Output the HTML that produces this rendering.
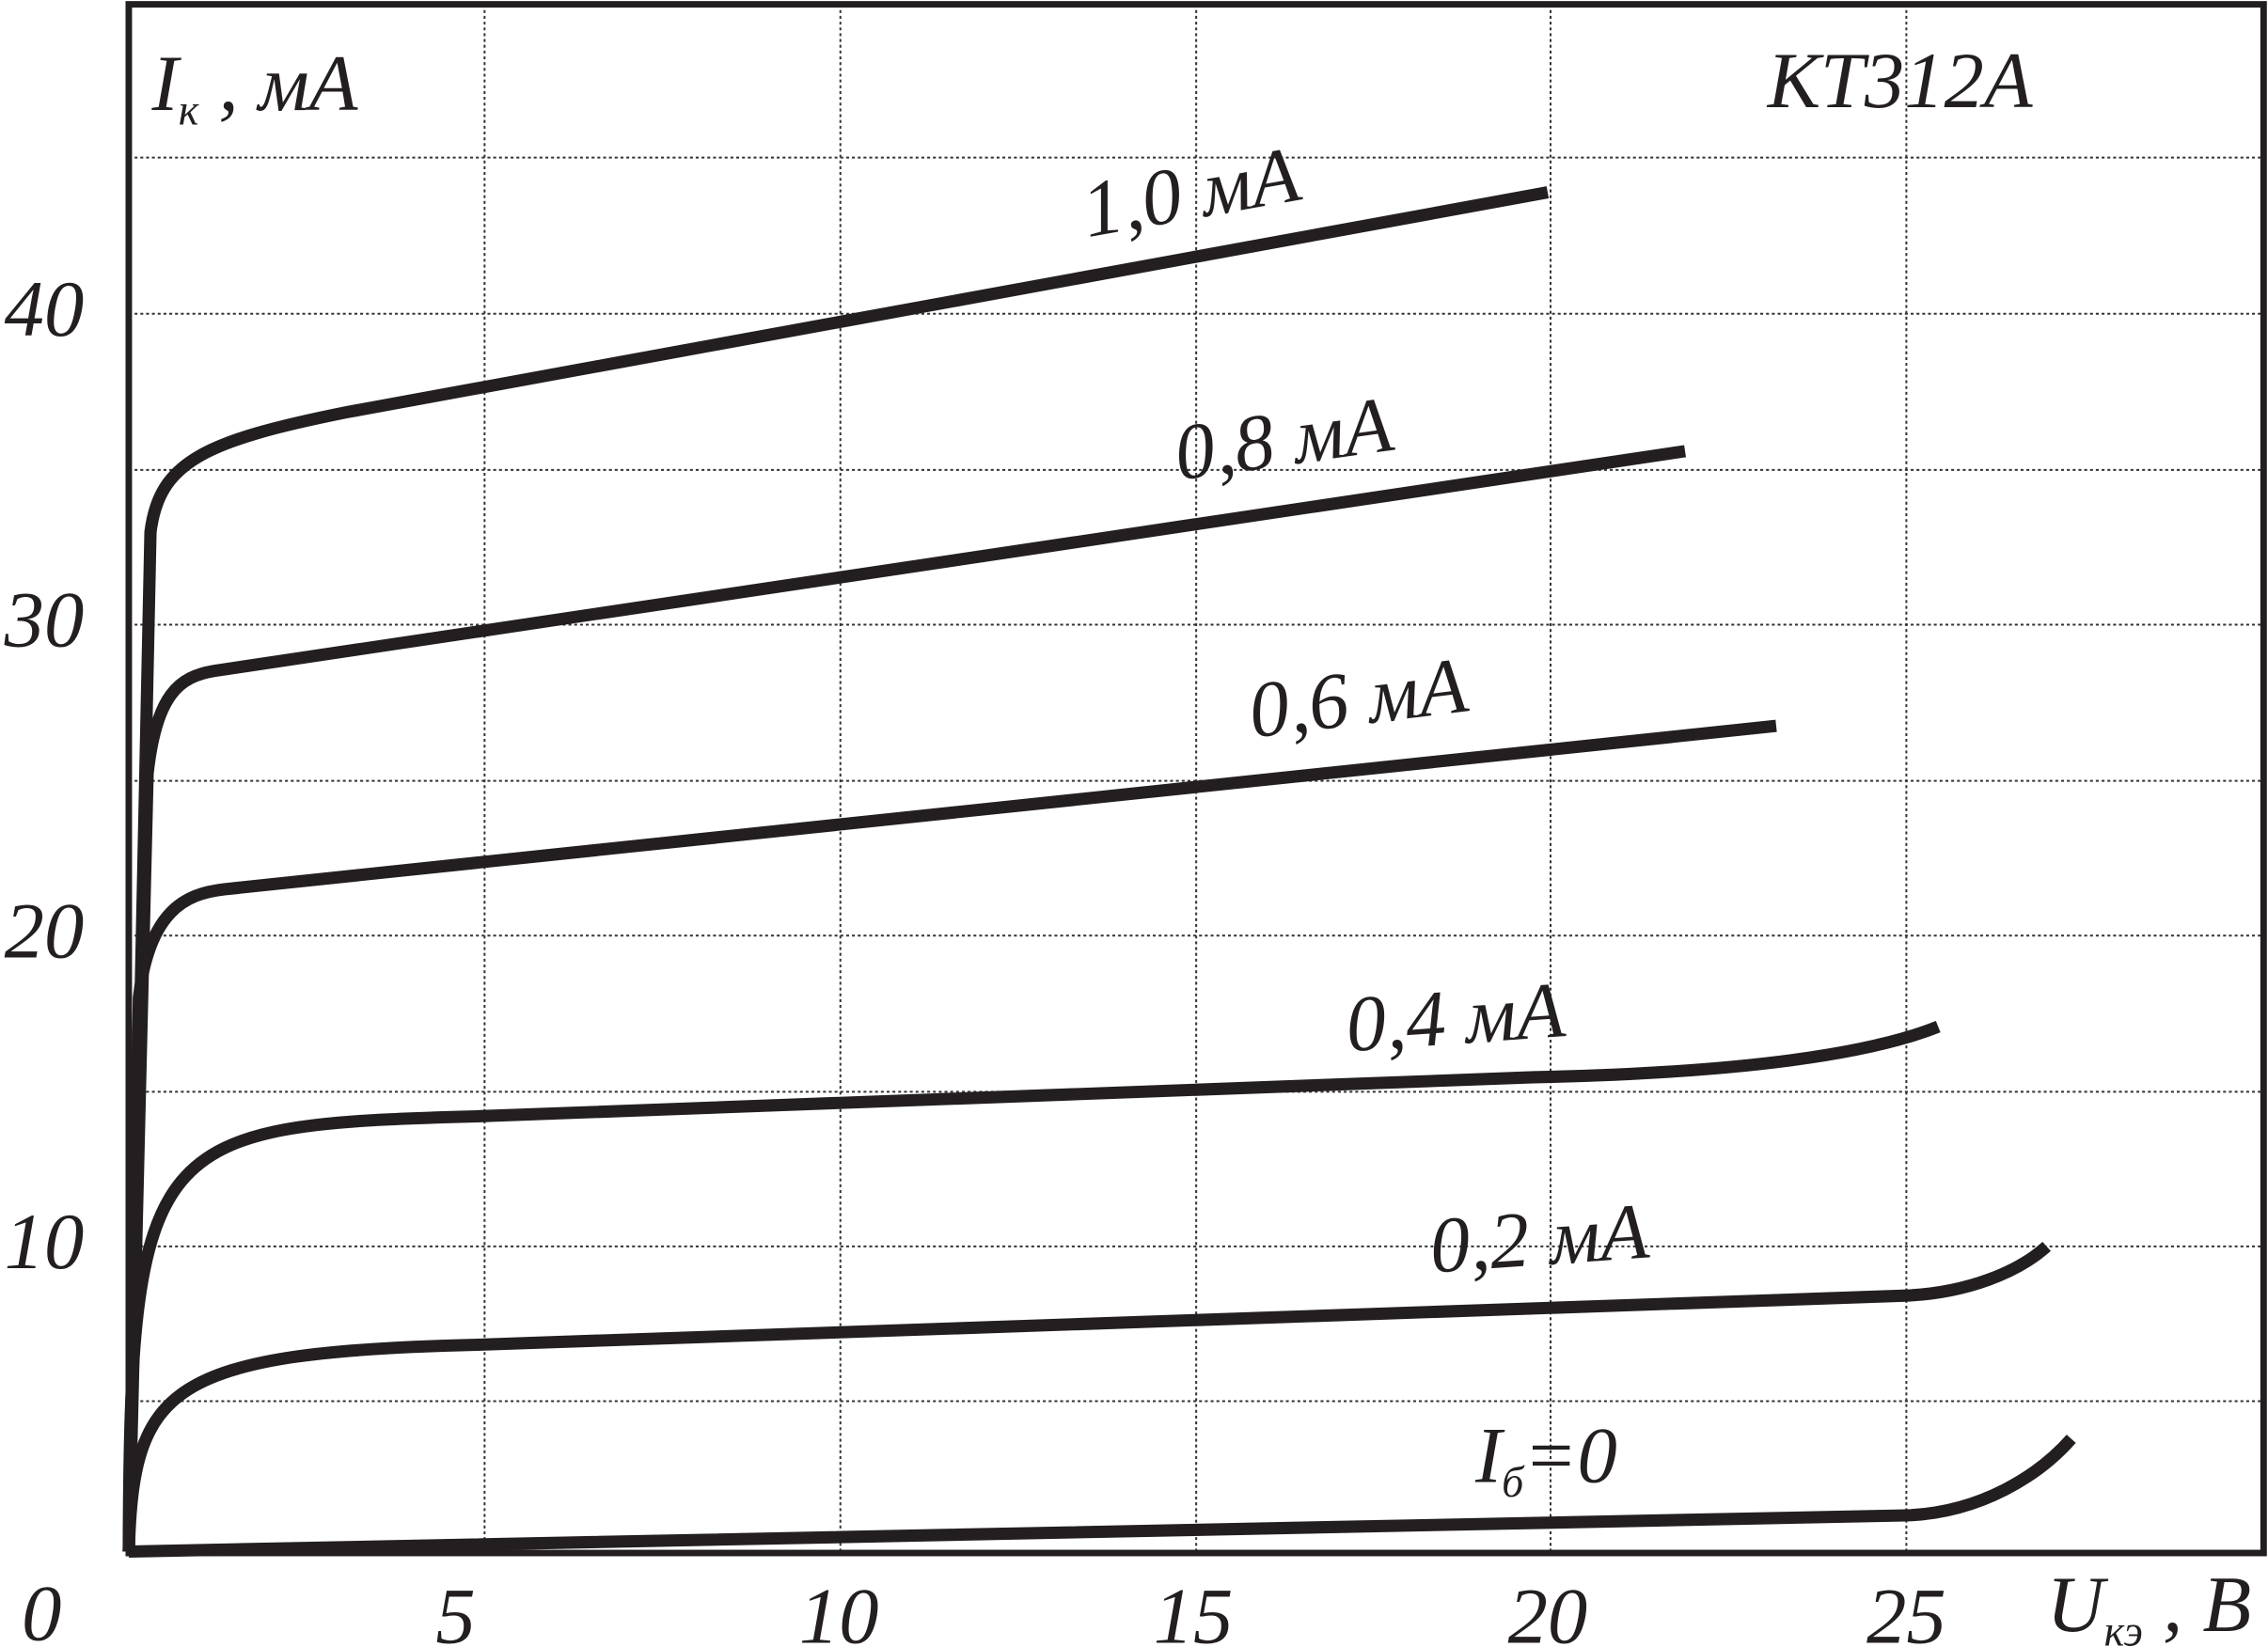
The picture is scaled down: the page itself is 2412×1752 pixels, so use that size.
<!DOCTYPE html>
<html><head><meta charset="utf-8"><style>html,body{margin:0;padding:0;background:#fff}svg{display:block}</style></head>
<body>
<svg width="2412" height="1752" viewBox="0 0 1568 1139" xmlns="http://www.w3.org/2000/svg" font-family="Liberation Serif, serif" font-style="italic" fill="#231f20">
<g stroke="#333" stroke-width="1.3" stroke-dasharray="2,2" fill="none">
<line x1="335" y1="3" x2="335" y2="1074"/><line x1="581" y1="3" x2="581" y2="1074"/>
<line x1="827" y1="3" x2="827" y2="1074"/><line x1="1072" y1="3" x2="1072" y2="1074"/>
<line x1="1318" y1="3" x2="1318" y2="1074"/>
<line x1="89" y1="109" x2="1565" y2="109"/><line x1="89" y1="217" x2="1565" y2="217"/>
<line x1="89" y1="325" x2="1565" y2="325"/><line x1="89" y1="432" x2="1565" y2="432"/>
<line x1="89" y1="540" x2="1565" y2="540"/><line x1="89" y1="647" x2="1565" y2="647"/>
<line x1="89" y1="755" x2="1565" y2="755"/><line x1="89" y1="862" x2="1565" y2="862"/>
<line x1="89" y1="969" x2="1565" y2="969"/>
</g>
<rect x="89" y="3" width="1476" height="1071" fill="none" stroke="#231f20" stroke-width="4.5"/>
<g stroke="#231f20" stroke-width="8.5" fill="none">
<path d="M89,1073 L1318,1048 C1370,1046 1410,1020 1432,995"/>
<path d="M89,1073 C92,960 115,935 330,930 L1318,896 C1360,894 1395,880 1415,862"/>
<path d="M89,1073 C90,785 105,778 330,772 L1060,745 C1200,742 1290,730 1340,710"/>
<path d="M89,1073 L96,690 C103,630 128,618 155,615 L1228,502"/>
<path d="M89,1073 L102,535 C108,480 124,468 148,464 L1165,312"/>
<path d="M89,1073 L104,368 C110,320 140,305 240,285 L1070,133"/>
</g>
<g font-size="55">
<text x="3" y="232">40</text><text x="3" y="447">30</text><text x="3" y="662">20</text><text x="3" y="877">10</text>
<text x="15" y="1134">0</text>
<text x="315" y="1136" text-anchor="middle">5</text><text x="580" y="1136" text-anchor="middle">10</text>
<text x="825" y="1136" text-anchor="middle">15</text><text x="1070" y="1136" text-anchor="middle">20</text>
<text x="1318" y="1136" text-anchor="middle">25</text>
<text x="1415" y="1128">U<tspan font-size="30" dy="10">кэ</tspan><tspan dy="-10"> , В</tspan></text>
<text x="105" y="76">I<tspan font-size="30" dy="10">к</tspan><tspan dy="-10"> , мА</tspan></text>
<text x="1222" y="74">КТ312А</text>
<text transform="translate(752,164) rotate(-10)">1,0 мА</text>
<text transform="translate(815,332) rotate(-8)">0,8 мА</text>
<text transform="translate(866,510) rotate(-7)">0,6 мА</text>
<text transform="translate(932,727) rotate(-4)">0,4 мА</text>
<text transform="translate(990,880) rotate(-4)">0,2 мА</text>
<text x="1020" y="1025">I<tspan font-size="30" dy="10">б</tspan><tspan dy="-10">=0</tspan></text>
</g>
</svg>
</body></html>
